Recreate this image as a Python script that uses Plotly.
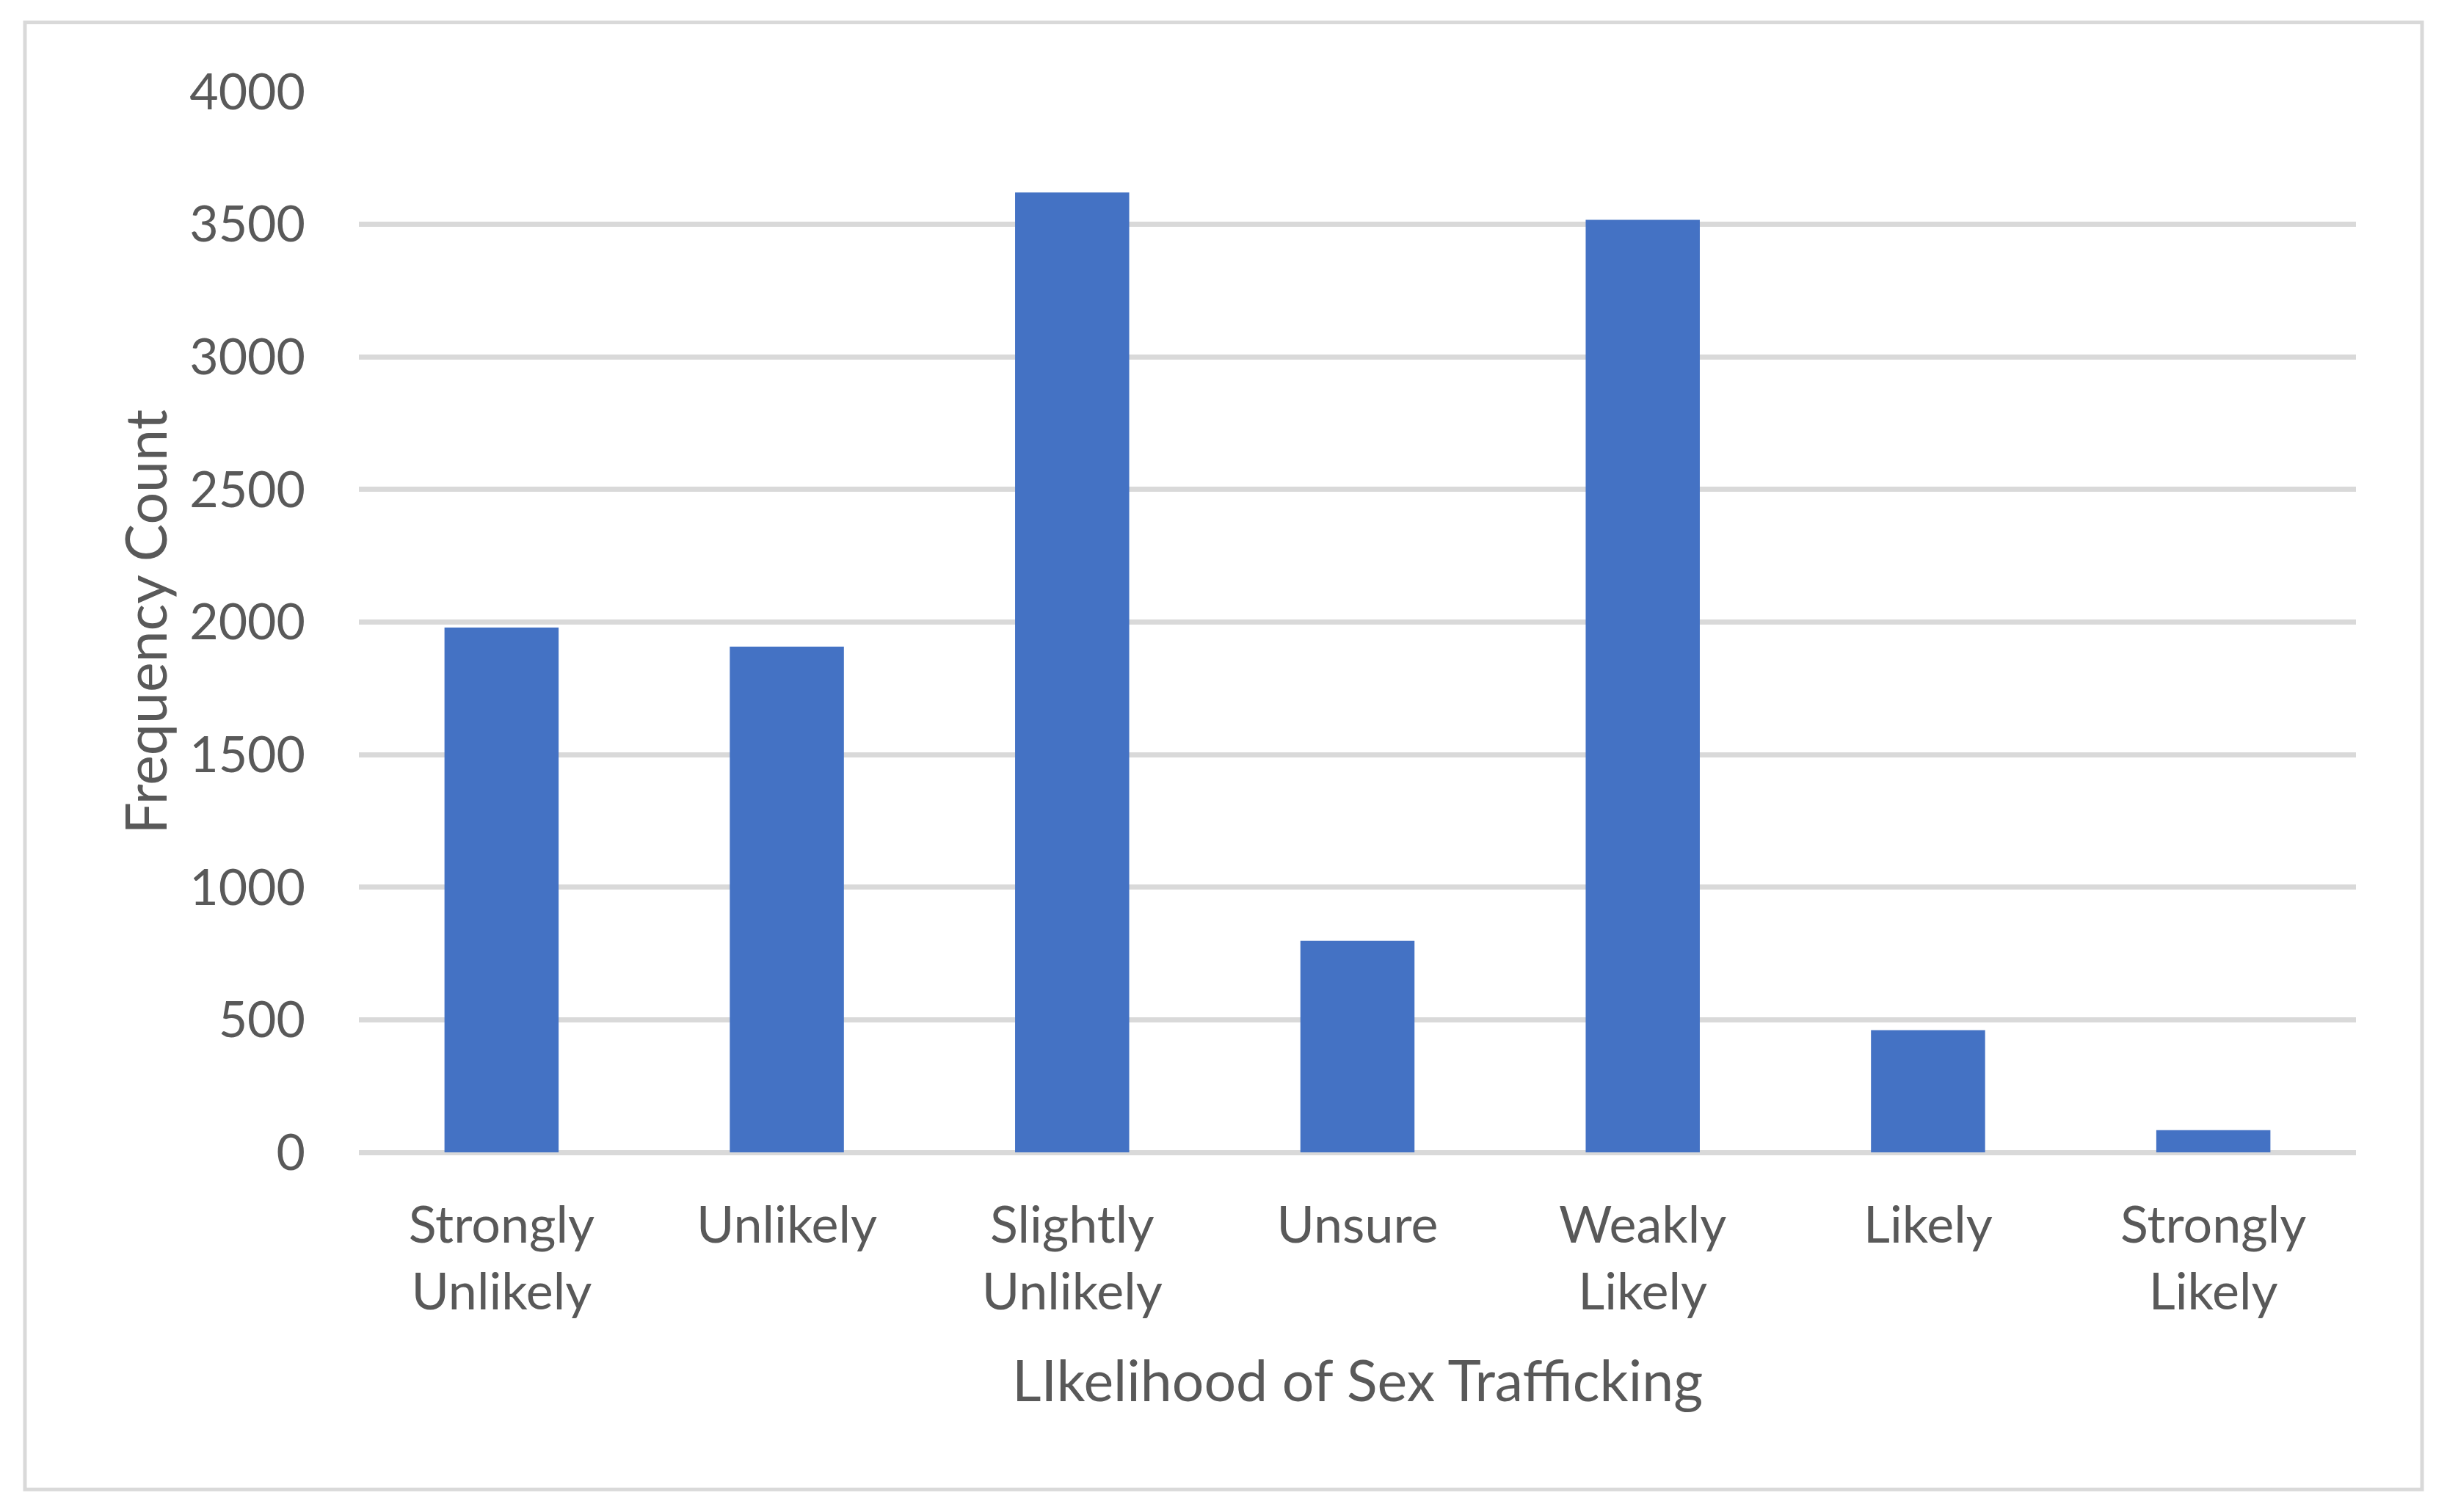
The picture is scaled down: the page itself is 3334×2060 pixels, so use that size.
import plotly.graph_objects as go

categories = ["Strongly<br>Unlikely", "Unlikely", "Slightly<br>Unlikely", "Unsure",
              "Weakly<br>Likely", "Likely", "Strongly<br>Likely"]
counts = [1979, 1907, 3620, 798, 3517, 461, 84]
y_ticks = [0, 500, 1000, 1500, 2000, 2500, 3000, 3500, 4000]

OFF = 8  # default page body margin
W, H = 3334 - 2 * OFF, 2060 - 2 * OFF
# target plot area in page pixels
PX0, PX1, PY0, PY1 = 489, 3210, 124.5, 1570.5
L = PX0 - OFF
R = W - (PX1 - OFF)
T = PY0 - OFF
B = H - (PY1 - OFF)
pw, ph = W - L - R, H - T - B

def px_x(px):
    return (px - OFF - L) / pw

def px_y(py):
    return (H - B - (py - OFF)) / ph

font_family = "Lato, 'Open Sans', sans-serif"
txt = "#595959"
grid = "#d9d9d9"

fig = go.Figure(go.Bar(x=categories, y=counts, marker_color="#4472c4",
                       marker_line_width=0))

fig.update_layout(
    width=W, height=H,
    margin=dict(l=L, r=R, t=T, b=B, autoexpand=False),
    paper_bgcolor="white", plot_bgcolor="white",
    bargap=0.6, showlegend=False,
    font=dict(family=font_family, color=txt, size=70),
    xaxis=dict(showgrid=False, showline=False, zeroline=False,
               tickfont=dict(size=70, color=txt), ticklabelstandoff=52,
               automargin=False),
    yaxis=dict(range=[0, 4000], tickvals=y_ticks, showgrid=True, gridcolor=grid,
               gridwidth=7, zeroline=True, zerolinecolor=grid, zerolinewidth=7,
               showline=False, tickfont=dict(size=68, color=txt),
               ticklabelstandoff=72, automargin=False),
    shapes=[dict(type="rect", xref="paper", yref="paper",
                 x0=px_x(34), x1=px_x(3300), y0=px_y(2030), y1=px_y(30),
                 line=dict(color=grid, width=5), fillcolor="rgba(0,0,0,0)",
                 layer="below")],
    annotations=[
        dict(text="LIkelihood of Sex Trafficking", xref="paper", yref="paper",
             x=0.5, y=px_y(1880), xanchor="center", yanchor="middle",
             showarrow=False, font=dict(size=77, color=txt)),
        dict(text="Frequency Count", xref="paper", yref="paper",
             x=px_x(196), y=0.5, xanchor="center", yanchor="middle",
             textangle=-90, showarrow=False, font=dict(size=77, color=txt)),
    ],
)

fig.write_html("out.html", config={"responsive": False, "displayModeBar": False})
